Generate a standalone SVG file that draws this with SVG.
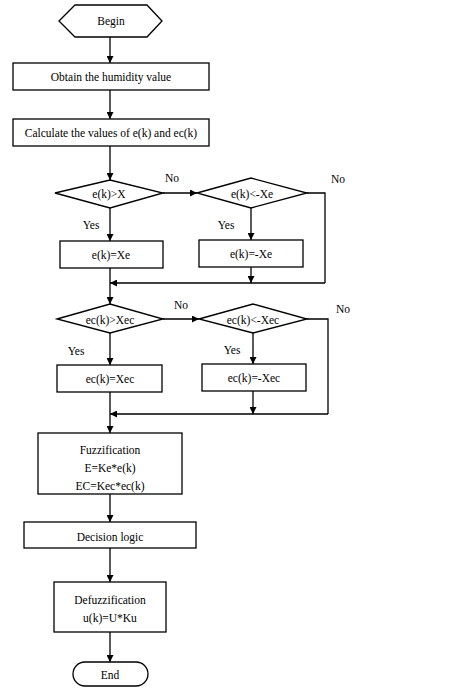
<svg xmlns="http://www.w3.org/2000/svg" width="474" height="694" viewBox="0 0 474 694">
<defs>
<marker id="ah" viewBox="0 0 8 8" refX="8" refY="4" markerWidth="7" markerHeight="7" markerUnits="userSpaceOnUse" orient="auto">
<path d="M0,0 L8,4 L0,8 Z" fill="#000"/>
</marker>
</defs>
<style>
.s{fill:#fff;stroke:#000;stroke-width:1.3}
.t{font-family:"Liberation Serif","Times New Roman",serif;font-size:11.5px;fill:#000;text-anchor:middle;dominant-baseline:central}
.c{fill:none;stroke:#000;stroke-width:1.3}
.a{marker-end:url(#ah)}
</style>
<rect width="474" height="694" fill="#fff"/>
<g id="connectors">
<path class="c a" d="M110,37 V63"/>
<path class="c a" d="M110,90 V119"/>
<path class="c a" d="M110,146 V180"/>
<path class="c a" d="M110,208 V241"/>
<path class="c a" d="M163,193 H197"/>
<path class="c a" d="M251,208 V240"/>
<path class="c" d="M307,193 H325 V283"/>
<path class="c a" d="M325,283 H110"/>
<path class="c a" d="M251,267 V283"/>
<path class="c a" d="M110,268 V304"/>
<path class="c a" d="M110,333 V365"/>
<path class="c a" d="M163,319 H199"/>
<path class="c a" d="M253,333 V364"/>
<path class="c" d="M307,319 H328 V414"/>
<path class="c a" d="M328,414 H110"/>
<path class="c a" d="M253,391 V414"/>
<path class="c a" d="M110,392 V433"/>
<path class="c a" d="M110,494 V522"/>
<path class="c a" d="M110,548 V582"/>
<path class="c a" d="M110,632 V662"/>
<text class="t" x="172" y="178">No</text>
<text class="t" x="338" y="179">No</text>
<text class="t" x="91" y="225">Yes</text>
<text class="t" x="226" y="225">Yes</text>
<text class="t" x="181" y="305">No</text>
<text class="t" x="343" y="309">No</text>
<text class="t" x="76" y="351">Yes</text>
<text class="t" x="232" y="350">Yes</text>
</g>
<g id="begin">
<polygon class="s" points="59,21 75,5 147,5 162,21 147,37 75,37"/>
<text class="t" x="111" y="21">Begin</text>
</g>
<g id="obtain">
<rect class="s" x="13" y="63" width="196" height="27"/>
<text class="t" x="111" y="77">Obtain the humidity value</text>
</g>
<g id="calculate">
<rect class="s" x="13" y="119" width="196" height="27"/>
<text class="t" x="111" y="133">Calculate the values of e(k) and ec(k)</text>
</g>
<g id="d1">
<polygon class="s" points="55,193 110,180 163,193 110,208"/>
<text class="t" x="109" y="194">e(k)&gt;X</text>
</g>
<g id="d2">
<polygon class="s" points="197,193 251,178 307,193 251,208"/>
<text class="t" x="252" y="194">e(k)&lt;-Xe</text>
</g>
<g id="b1">
<rect class="s" x="60" y="241" width="103" height="27"/>
<text class="t" x="111" y="255">e(k)=Xe</text>
</g>
<g id="b2">
<rect class="s" x="199" y="240" width="104" height="27"/>
<text class="t" x="251" y="254">e(k)=-Xe</text>
</g>
<g id="d3">
<polygon class="s" points="57,319 110,304 163,319 110,333"/>
<text class="t" x="110" y="320">ec(k)&gt;Xec</text>
</g>
<g id="d4">
<polygon class="s" points="199,319 253,304 307,319 253,333"/>
<text class="t" x="253" y="320">ec(k)&lt;-Xec</text>
</g>
<g id="b3">
<rect class="s" x="57" y="365" width="105" height="27"/>
<text class="t" x="110" y="379">ec(k)=Xec</text>
</g>
<g id="b4">
<rect class="s" x="202" y="364" width="104" height="27"/>
<text class="t" x="254" y="378">ec(k)=-Xec</text>
</g>
<g id="fuzz">
<rect class="s" x="38" y="433" width="144" height="61"/>
<text class="t" x="110" y="450">Fuzzification</text>
<text class="t" x="110" y="468">E=Ke*e(k)</text>
<text class="t" x="110" y="486">EC=Kec*ec(k)</text>
</g>
<g id="decision">
<rect class="s" x="24" y="522" width="172" height="26"/>
<text class="t" x="110" y="537">Decision logic</text>
</g>
<g id="defuzz">
<rect class="s" x="54" y="582" width="112" height="50"/>
<text class="t" x="110" y="600">Defuzzification</text>
<text class="t" x="110" y="618">u(k)=U*Ku</text>
</g>
<g id="end">
<rect class="s" x="73" y="662" width="75" height="24" rx="12" ry="12"/>
<text class="t" x="110" y="675">End</text>
</g>
</svg>
